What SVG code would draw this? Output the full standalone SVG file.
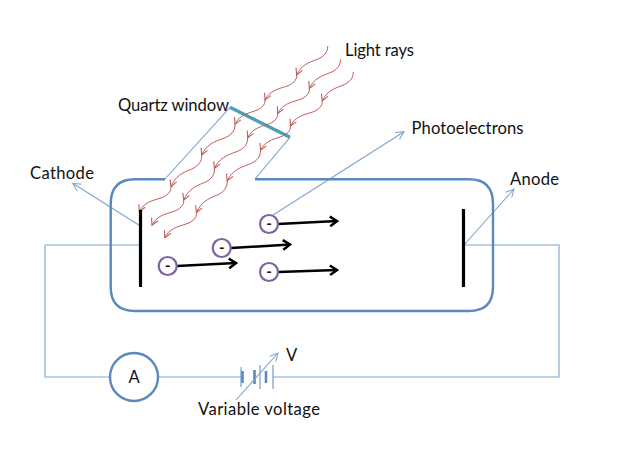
<svg xmlns="http://www.w3.org/2000/svg" xmlns:xlink="http://www.w3.org/1999/xlink" width="632" height="468" viewBox="0 0 632 468">
<style>
text{font-family:Lato,"Liberation Sans",sans-serif;font-size:16.6px;fill:#111}
.sign{font-weight:700;font-size:15px}
.tube{fill:none;stroke:#5a88bf;stroke-width:2.4}
.thin{fill:none;stroke:#7ea4cf;stroke-width:1.1}
.thina{fill:none;stroke:#7ea4cf;stroke-width:1.1;marker-end:url(#open)}
.plate{stroke:#000;stroke-width:3.200;fill:none}
.ray{fill:none;stroke:#bd5d59;stroke-width:1;marker-end:url(#redv)}
.el{fill:#fff;stroke:#8064a2;stroke-width:2.200}
.go{stroke:#000;stroke-width:2.500;fill:none;marker-end:url(#black)}
.bat{stroke:#5a88bf;fill:none}
</style>
<defs>
<marker id="open" markerUnits="userSpaceOnUse" markerWidth="12" markerHeight="12" refX="9" refY="5" orient="auto"><path d="M1,1 L9,5 L1,9" fill="none" stroke="#7ea4cf"/></marker>
<marker id="redv" markerUnits="userSpaceOnUse" markerWidth="10" markerHeight="10" refX="7.500" refY="5" orient="auto"><path d="M1,1.500 L7.500,5 L1,8.500" fill="none" stroke="#bd5d59" stroke-width="1.100"/></marker>
<marker id="black" markerUnits="userSpaceOnUse" markerWidth="12" markerHeight="14" refX="9.500" refY="7" orient="auto"><path d="M2.500,2.200 L9.500,7 L2.500,11.800" fill="none" stroke="#000" stroke-width="2.500"/></marker>
<g id="wave">
<path class="ray" d="M327.700,46 c.5,6 -4,11 -11,13.500 c-8,3 -16,6 -20,15.500"/>
<path class="ray" d="M296.700,75 c.5,5 -4,9.500 -11,11.500 c-8,2.500 -16.500,4.500 -20.700,13.500"/>
<path class="ray" d="M265,100 c.5,5 -4,9 -10.500,11 c-7.500,2.500 -15.500,4.500 -19.500,13.300"/>
<path class="ray" d="M235,124.300 c.5,6.500 -4.500,11.700 -12,14.200 c-8.500,3 -17,6.500 -21.300,16.500"/>
<path class="ray" d="M201.700,155 c.5,6.500 -4,12 -11,14.500 c-8,3 -15.700,7 -19.700,17.200"/>
<path class="ray" d="M171,186.700 c.5,5 -4,9.500 -11,11.500 c-8,2.500 -16.500,4.500 -20.700,13.500"/>
</g>
</defs>
<g id="connectors">
<path class="thin" d="M140,245 H45 V377 H110 M158,377 H241 M273,377 H559 V245 H464"/>
<path class="thin" d="M165,179 L230,107.300 M255,179 L290,137.300"/>
<path class="thina" d="M140,225.700 L72.700,183.300"/>
<path class="thina" d="M273,215 L404,131.700"/>
<path class="thina" d="M464,245 L514,189"/>
</g>
<g id="tube"><path class="tube" d="M165,179.300 H135 Q110.700,179.300 110.700,204 V287 Q110.700,311 135,311 H469 Q493,311 493,287 V204 Q493,179.300 469,179.300 H255"/></g>
<g id="window"><line x1="230" y1="107.300" x2="290" y2="137.300" stroke="#4a9fb8" stroke-width="3.400"/></g>
<g id="rays">
<use href="#wave" xlink:href="#wave"/>
<use href="#wave" xlink:href="#wave" transform="translate(12.700,13.500)"/>
<use href="#wave" xlink:href="#wave" transform="translate(25.500,26)"/>
</g>
<g id="cathode"><line class="plate" x1="140.500" y1="210" x2="140.500" y2="287"/></g>
<g id="anode"><line class="plate" x1="463.500" y1="209" x2="463.500" y2="287"/></g>
<g id="electron1"><line class="go" x1="177" y1="266" x2="236" y2="263"/><circle class="el" cx="167.700" cy="266" r="9"/><text class="sign" x="167.700" y="271" text-anchor="middle">-</text></g>
<g id="electron2"><line class="go" x1="231" y1="248" x2="290" y2="244.500"/><circle class="el" cx="221.700" cy="248" r="9"/><text class="sign" x="221.700" y="253" text-anchor="middle">-</text></g>
<g id="electron3"><line class="go" x1="278" y1="224" x2="337" y2="221"/><circle class="el" cx="269" cy="224" r="9"/><text class="sign" x="269" y="229" text-anchor="middle">-</text></g>
<g id="electron4"><line class="go" x1="278" y1="272" x2="337" y2="270"/><circle class="el" cx="269" cy="272" r="9"/><text class="sign" x="269" y="277" text-anchor="middle">-</text></g>
<g id="ammeter"><circle cx="134" cy="377" r="24" fill="none" stroke="#5a88bf" stroke-width="2.400"/><text x="134" y="382.500" text-anchor="middle">A</text></g>
<g id="battery">
<path class="bat" stroke-width="2.600" d="M242.500,371 V383 M254.500,370 V384 M266,371 V383"/>
<path class="bat" d="M241,367 V387 M260,365 V389 M273,365 V389" stroke-width="1"/>
<path class="thina" d="M236,400 L278,353"/>
</g>
<g id="labels">
<text x="345" y="56" textLength="69">Light rays</text>
<text x="118" y="111" textLength="111">Quartz window</text>
<text x="411.500" y="134" textLength="112">Photoelectrons</text>
<text x="30" y="179" textLength="64">Cathode</text>
<text x="510" y="185" textLength="49">Anode</text>
<text x="286" y="361">V</text>
<text x="198" y="415" textLength="122">Variable voltage</text>
</g>
</svg>
